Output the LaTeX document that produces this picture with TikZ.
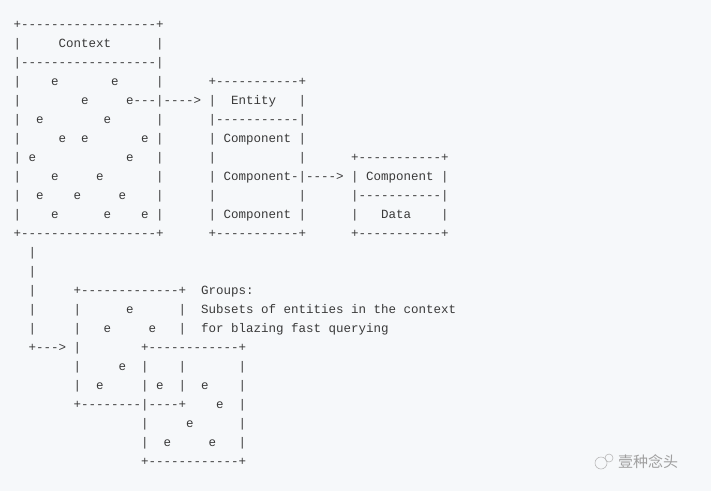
\documentclass[tikz,border=0pt]{standalone}
\usepackage{fontspec}
\setmonofont{Liberation Mono}
\newfontfamily\cjk{Noto Sans CJK SC}
\definecolor{bgc}{HTML}{F6F8FA}
\definecolor{txt}{HTML}{3A3A3A}
\begin{document}
\begin{tikzpicture}[x=1pt,y=1pt,
  ln/.style={anchor=base west,inner sep=0pt,text=txt,font=\ttfamily\fontsize{12.5}{19}\selectfont}]
\fill[bgc] (0,0) rectangle (711,-491);
\useasboundingbox (0,0) rectangle (711,-491);
\foreach \i/\t in {
0/{+------------------+},
1/{|~~~~~Context~~~~~~|},
2/{|------------------|},
3/{|~~~~e~~~~~~~e~~~~~|~~~~~~+-----------+},
4/{|~~~~~~~~e~~~~~e---|---->~|~~Entity~~~|},
5/{|~~e~~~~~~~~e~~~~~~|~~~~~~|-----------|},
6/{|~~~~~e~~e~~~~~~~e~|~~~~~~|~Component~|},
7/{|~e~~~~~~~~~~~~e~~~|~~~~~~|~~~~~~~~~~~|~~~~~~+-----------+},
8/{|~~~~e~~~~~e~~~~~~~|~~~~~~|~Component-|---->~|~Component~|},
9/{|~~e~~~~e~~~~~e~~~~|~~~~~~|~~~~~~~~~~~|~~~~~~|-----------|},
10/{|~~~~e~~~~~~e~~~~e~|~~~~~~|~Component~|~~~~~~|~~~Data~~~~|},
11/{+------------------+~~~~~~+-----------+~~~~~~+-----------+},
12/{~~|},
13/{~~|},
14/{~~|~~~~~+-------------+~~Groups:},
15/{~~|~~~~~|~~~~~~e~~~~~~|~~Subsets~of~entities~in~the~context},
16/{~~|~~~~~|~~~e~~~~~e~~~|~~for~blazing~fast~querying},
17/{~~+--->~|~~~~~~~~+------------+},
18/{~~~~~~~~|~~~~~e~~|~~~~|~~~~~~~|},
19/{~~~~~~~~|~~e~~~~~|~e~~|~~e~~~~|},
20/{~~~~~~~~+--------|----+~~~~e~~|},
21/{~~~~~~~~~~~~~~~~~|~~~~~e~~~~~~|},
22/{~~~~~~~~~~~~~~~~~|~~e~~~~~e~~~|},
23/{~~~~~~~~~~~~~~~~~+------------+}}
  \node[ln] (l\i) at (13.4,{-(28.5+19*\i)}) {\t};
\node[anchor=west,inner sep=0pt,text=gray!75,font=\cjk\fontsize{15}{15}\selectfont] (wm) at (618,-462) {壹种念头};
\draw[gray!55,line width=0.6pt] (601,-463) circle (6);
\draw[gray!55,line width=0.6pt] (609,-458) circle (4);
\end{tikzpicture}
\end{document}
